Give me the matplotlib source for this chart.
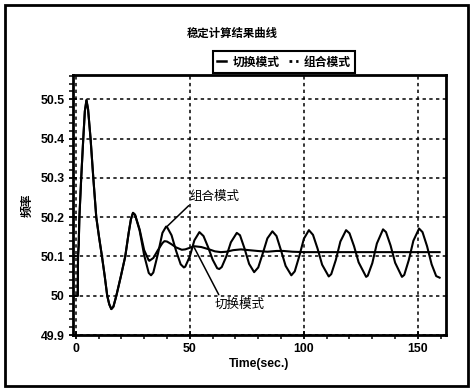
import matplotlib
matplotlib.use("Agg")
import matplotlib.pyplot as plt
from matplotlib.lines import Line2D
from matplotlib.patches import Rectangle
from matplotlib.ticker import MultipleLocator, FixedLocator
import numpy as np

# ---------------- data ----------------
title = "稳定计算结果曲线"
xlabel = "Time(sec.)"
ylabel = "频率"
legend_labels = ["切换模式", "组合模式"]

# shared transient (both curves coincide up to ~26 s)
t_common = [0, 0.9, 1.0, 1.3, 1.6, 2.4, 3.3, 4.0, 4.7, 5.4, 6.5, 7.7, 9.0, 10.2,
            11.5, 12.7, 13.8, 14.7, 15.6, 16.5, 17.8, 19.8, 21.7, 23.2, 24.2, 25.1, 26]
y_common = [50.0, 50.0, 50.1, 50.13, 50.2, 50.3, 50.4, 50.47, 50.498, 50.475, 50.4,
            50.3, 50.2, 50.15, 50.1, 50.05, 50.0, 49.978, 49.966, 49.972, 50.0, 50.05,
            50.1, 50.16, 50.195, 50.211, 50.206]

# 组合模式 (sustained oscillation) after 26 s
t_combo = [28, 30, 32, 33, 34, 36, 38, 39.6, 40, 42, 44, 46, 47.4, 48, 50, 52, 54.2,
           56, 58, 60, 62, 62.9, 64, 66, 68, 70.6, 72, 74, 76, 78.2, 80, 82, 84, 86.2,
           88, 90, 92, 94.5, 96, 98, 100, 102.2, 104, 106, 108, 110.9, 112, 114, 116,
           118.5, 120, 122, 124, 127.3, 128, 130, 132, 134.7, 136, 138, 140, 143, 144,
           146, 148, 150.5, 152, 154, 156, 158, 159.5]
y_combo = [50.166, 50.103, 50.058, 50.052, 50.059, 50.106, 50.160, 50.176, 50.175,
           50.154, 50.114, 50.080, 50.072, 50.074, 50.100, 50.141, 50.162, 50.152,
           50.124, 50.092, 50.070, 50.068, 50.073, 50.100, 50.136, 50.160, 50.154,
           50.120, 50.081, 50.060, 50.072, 50.108, 50.146, 50.164, 50.152, 50.115,
           50.076, 50.052, 50.062, 50.101, 50.145, 50.167, 50.155, 50.120, 50.079,
           50.049, 50.055, 50.091, 50.138, 50.167, 50.159, 50.126, 50.085, 50.048,
           50.051, 50.083, 50.133, 50.169, 50.162, 50.128, 50.084, 50.048, 50.053,
           50.091, 50.140, 50.171, 50.162, 50.126, 50.080, 50.050, 50.046]

# 切换模式 (damped) after 26 s
t_switch = [28, 30, 32, 32.3, 34, 36, 38, 38.9, 40, 42, 44, 46.5, 48, 50, 52, 55,
            58.5, 61, 63.6, 66, 69, 72.4, 76, 79.6, 84, 88, 91, 95, 100, 110, 120,
            130, 140, 150, 159.5]
y_switch = [50.169, 50.116, 50.090, 50.089, 50.096, 50.116, 50.134, 50.139, 50.138,
            50.131, 50.123, 50.117, 50.118, 50.122, 50.126, 50.124, 50.118, 50.113,
            50.111, 50.112, 50.116, 50.118, 50.116, 50.114, 50.112, 50.114, 50.114,
            50.112, 50.111, 50.111, 50.111, 50.111, 50.111, 50.111, 50.111]

xticks = [0, 50, 100, 150]
xtick_labels = ["0", "50", "100", "150"]
yticks = [49.9, 50.0, 50.1, 50.2, 50.3, 50.4, 50.5]
ytick_labels = ["49.9", "50", "50.1", "50.2", "50.3", "50.4", "50.5"]

# ---------------- figure ----------------
plt.rcParams['font.family'] = ['Liberation Sans', 'Noto Sans CJK SC', 'DejaVu Sans']
cjk = ['Noto Sans CJK SC', 'DejaVu Sans']

fig = plt.figure(figsize=(4.74, 3.92), dpi=100)
fig.patches.append(Rectangle((5 / 474, 1 - 386 / 392), 463 / 474, 381 / 392,
                             transform=fig.transFigure, fill=False,
                             edgecolor='black', linewidth=2.0))

ax = fig.add_axes([73 / 474, 1 - 335 / 392, 373 / 474, 260 / 392])

t_c = np.concatenate([t_common, t_combo])
y_c = np.concatenate([y_common, y_combo])
t_s = np.concatenate([t_common, t_switch])
y_s = np.concatenate([y_common, y_switch])

ax.plot(t_c, y_c, color='black', lw=1.5, solid_joinstyle='round')
ax.plot(t_s, y_s, color='black', lw=1.5, solid_joinstyle='round')

ax.set_xlim(-1.2, 162.3)
ax.set_ylim(49.9, 50.562)

ax.xaxis.set_major_locator(FixedLocator(xticks))
ax.set_xticklabels(xtick_labels)
ax.yaxis.set_major_locator(FixedLocator(yticks))
ax.set_yticklabels(ytick_labels)
ax.xaxis.set_minor_locator(MultipleLocator(10))
ax.yaxis.set_minor_locator(MultipleLocator(0.02))

ax.grid(True, which='major', color='black', linestyle=(0, (2.2, 2.2)), lw=1.1)
ax.tick_params(which='major', direction='inout', length=6, width=1.3,
               labelsize=8.8, pad=3)
ax.tick_params(which='minor', direction='out', length=3, width=1.1)
for lab in ax.get_xticklabels() + ax.get_yticklabels():
    lab.set_fontweight('bold')

for sp in ax.spines.values():
    sp.set_linewidth(2.0)

ax.set_xlabel(xlabel, fontsize=8.8, fontweight='bold', labelpad=2)
ax.set_ylabel(ylabel, fontsize=8.5, fontweight='bold', family=cjk)
ax.yaxis.set_label_coords(-0.105, 0.5)

fig.text(232 / 474, 1 - 33 / 392, title, ha='center', va='center',
         fontsize=8.2, fontweight='bold', family=cjk)

handles = [Line2D([], [], color='black', lw=1.8),
           Line2D([], [], color='black', lw=2.0, linestyle=(0, (1, 1.4)))]
leg = fig.legend(handles, legend_labels, loc='center',
                 bbox_to_anchor=(284 / 474, 1 - 62 / 392), ncol=2,
                 prop={'family': cjk, 'weight': 'bold', 'size': 8.5},
                 handlelength=0.8, handletextpad=0.5, columnspacing=0.8,
                 borderpad=0.35, fancybox=False, framealpha=1,
                 edgecolor='black')
leg.get_frame().set_linewidth(1.5)

ax.annotate(legend_labels[1], xy=(39.6, 50.174), xytext=(49.7, 50.253),
            ha='left', va='center', fontsize=9, family=cjk,
            arrowprops=dict(arrowstyle='-', color='black', lw=1.1,
                            relpos=(0.05, 0.0), shrinkA=0, shrinkB=0))
ax.annotate(legend_labels[0], xy=(52, 50.122), xytext=(60.7, 49.979),
            ha='left', va='center', fontsize=9, family=cjk,
            arrowprops=dict(arrowstyle='-', color='black', lw=1.1,
                            relpos=(0.12, 1.0), shrinkA=0, shrinkB=0))

fig.savefig("out.png", dpi=100)
